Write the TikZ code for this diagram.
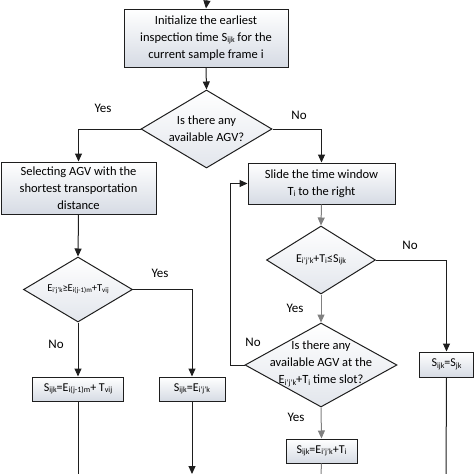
\documentclass[tikz,border=0pt]{standalone}
\usepackage{fontspec}
\setmainfont{Carlito}
\usetikzlibrary{shapes.geometric,arrows.meta}
\definecolor{boxc}{RGB}{214,219,228}
\definecolor{linec}{RGB}{30,30,30}
\newcommand{\sbs}[1]{\raisebox{-0.25ex}{\fontsize{8}{8}\selectfont #1}}
\newcommand{\sbt}[1]{\raisebox{-0.2ex}{\fontsize{7}{7}\selectfont #1}}
\begin{document}
\begin{tikzpicture}[x=1pt,y=-1pt,
  fbox/.style={draw=linec, line width=1pt, top color=white, bottom color=boxc, align=center, inner sep=0pt, font=\fontsize{12.5}{17}\selectfont},
  sbox/.style={draw=linec, line width=1pt, top color=white, bottom color=boxc, align=center, inner sep=0pt, font=\fontsize{12}{13}\selectfont},
  dia/.style={diamond, draw=linec, line width=1pt, top color=white, bottom color=boxc!70, inner sep=0pt},
  dtext/.style={align=center, inner sep=0pt, font=\fontsize{12.5}{17}\selectfont},
  dstext/.style={align=center, inner sep=0pt, font=\fontsize{10.5}{13}\selectfont},
  dmtext/.style={align=center, inner sep=0pt, font=\fontsize{12}{13}\selectfont},
  lab/.style={inner sep=0pt, font=\fontsize{13}{14}\selectfont},
  arr/.style={draw=linec, line width=1pt, -{Triangle[width=7pt,length=8pt]}},
  ln/.style={draw=linec, line width=1pt},
  garr/.style={draw=gray, line width=1pt, -{Triangle[width=7pt,length=8pt]}}
]
\useasboundingbox (0,0) rectangle (474,474);
% nodes
\coordinate (start) at (207,0);
\node[fbox, minimum width=164pt, minimum height=58pt] (init) at (206,38) {Initialize the earliest\\inspection time S\sbs{ijk} for the\\current sample frame i};
\node[dia, minimum width=131pt, minimum height=78pt] (d1) at (206.5,129) {};
\node[dtext] (d1t) at (d1) {Is there any\\available AGV?};
\node[fbox, minimum width=155pt, minimum height=52pt] (sel) at (78.5,188) {Selecting AGV with the\\shortest transportation\\distance};
\node[fbox, minimum width=147pt, minimum height=41pt] (slide) at (321.5,183.5) {Slide the time window\\T\sbs{i} to the right};
\node[dia, minimum width=109pt, minimum height=65pt] (d2) at (78,289.5) {};
\node[dstext] (d2t) at (d2) {E\sbt{i'j'k}≥E\sbt{i(j-1)m}+T\sbt{vij}};
\node[dia, minimum width=109pt, minimum height=68pt] (d3) at (321,260) {};
\node[dmtext] (d3t) at (d3) {E\sbs{i'j'k}+T\sbs{i}≤S\sbs{ijk}};
\node[dia, minimum width=152pt, minimum height=84pt] (d4) at (321,365) {};
\node[dtext] (d4t) at (321,364) {Is there any\\available AGV at the\\E\sbs{i'j'k}+T\sbs{i} time slot?};
\node[sbox, minimum width=91pt, minimum height=24pt] (b5) at (78,389) {S\sbs{ijk}=E\sbs{i(j-1)m}+ T\sbs{vij}};
\node[sbox, minimum width=66pt, minimum height=24pt] (b6) at (192,389) {S\sbs{ijk}=E\sbs{i'j'k}};
\node[sbox, minimum width=54pt, minimum height=25pt] (b7) at (446.5,364.5) {S\sbs{ijk}=S\sbs{jk}};
\node[sbox, minimum width=71pt, minimum height=24pt] (b8) at (321.5,451) {S\sbs{ijk}=E\sbs{i'j'k}+T\sbs{i}};
\coordinate (e1) at (78,474);
\coordinate (e2) at (192,474);
\coordinate (e3) at (321,474);
\coordinate (e4) at (446,474);
\coordinate (loop) at (230,365);
% labels
\node[lab] (l1) at (103,108) {Yes};
\node[lab] (l2) at (299,115) {No};
\node[lab] (l3) at (160,273) {Yes};
\node[lab] (l4) at (56,344) {No};
\node[lab] (l5) at (410,245) {No};
\node[lab] (l6) at (295,308) {Yes};
\node[lab] (l7) at (253,342) {No};
\node[lab] (l8) at (296,417) {Yes};
% connectors
\draw[arr] (start) -- (init.north);
\draw[arr] (init.south) -- (d1.north);
\draw[arr] (d1.west) -| (sel.north);
\draw[arr] (d1.east) -| (slide.north);
\draw[arr] (sel.south) -- (d2.north);
\draw[arr] (d2.east) -| (b6.north);
\draw[arr] (d2.south) -- (b5.north);
\draw[ln] (b5.south) -- (e1);
\draw[arr] (b6.south) -- (e2);
\draw[garr] (slide.south) -- (d3.north);
\draw[arr] (d3.east) -| (b7.north);
\draw[ln] (b7.south) -- (e4);
\draw[garr] (d3.south) -- (d4.north);
\draw[arr] (d4.west) -- (loop) |- (slide.west);
\draw[garr] (d4.south) -- (b8.north);
\draw[draw=gray, line width=1pt] (b8.south) -- (e3);
\end{tikzpicture}
\end{document}
